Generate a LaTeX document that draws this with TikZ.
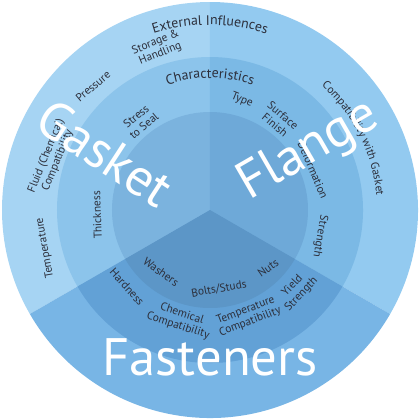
\documentclass[tikz,border=0pt]{standalone}
\usepackage{fontspec}
\setmainfont{PT Sans}
\usetikzlibrary{decorations.text}
\definecolor{gasketout}{HTML}{A6D4F3}
\definecolor{gasketmid}{HTML}{8CC4EB}
\definecolor{gasketin}{HTML}{7BB3DE}
\definecolor{flangeout}{HTML}{93CAF0}
\definecolor{flangemid}{HTML}{7BB9E5}
\definecolor{flangein}{HTML}{6EA9D8}
\definecolor{fastout}{HTML}{78B5E5}
\definecolor{fastmid}{HTML}{62A1D6}
\definecolor{fastin}{HTML}{5C96C7}
\definecolor{ink}{HTML}{2C2F3B}
\begin{document}
\begin{tikzpicture}[scale=0.2]
\tikzstyle{every node}+=[inner sep=0pt, text=ink]
\tikzstyle{small}=[font=\fontsize{6.5}{7}\selectfont, align=center]
\tikzstyle{big}=[font=\fontsize{30}{30}\selectfont, text=white]
\useasboundingbox (0,0) rectangle (42,-42);
% outer ring
\fill [gasketout] (21,-21) -- (21,-0.2) arc (90:210:20.8) -- cycle;
\fill [flangeout] (21,-21) -- (39.013,-31.4) arc (-30:90:20.8) -- cycle;
\fill [fastout] (21,-21) -- (2.987,-31.4) arc (210:330:20.8) -- cycle;
% middle ring
\fill [gasketmid] (21,-21) -- (21,-5.7) arc (90:210:15.3) -- cycle;
\fill [flangemid] (21,-21) -- (34.25,-28.65) arc (-30:90:15.3) -- cycle;
\fill [fastmid] (21,-21) -- (7.75,-28.65) arc (210:330:15.3) -- cycle;
% inner ring
\fill [gasketin] (21,-21) -- (21,-11.2) arc (90:210:9.8) -- cycle;
\fill [flangein] (21,-21) -- (29.487,-25.9) arc (-30:90:9.8) -- cycle;
\fill [fastin] (21,-21) -- (12.513,-25.9) arc (210:330:9.8) -- cycle;
% curved titles
\path [decorate, decoration={text along path, text align=center, text color=ink,
  text={|\fontsize{7.9}{8}\selectfont|External Influences}}] (4.979,-11.75) arc (150:30:18.5);
\path [decorate, decoration={text along path, text align=center, text color=ink,
  text={|\fontsize{7.9}{8}\selectfont|Characteristics}}] (9.568,-14.4) arc (150:30:13.2);
\path [decorate, decoration={text along path, text align=center, text color=ink,
  text={|\fontsize{6.5}{7}\selectfont|Compatibility with Gasket}}] (32.174,-8.589) arc (48:5:16.7);
% gasket
\draw (4.5,-24.8) node [small, rotate=100] (temperature) {Temperature};
\draw (9.7,-21.5) node [small, rotate=92] (thickness) {Thickness};
\draw (5.2,-15.8) node [small, rotate=68] (fluid) {Fluid (Chemical)\\Compatibility};
\draw (9.3,-8.6) node [small, rotate=40] (pressure) {Pressure};
\draw (15.8,-4.8) node [small, rotate=22] (storage) {Storage \&\\Handling};
\draw (14.0,-12.1) node [small, rotate=40] (stress) {Stress\\to Seal};
% flange
\draw (24.2,-10.0) node [small, rotate=-22] (type) {Type};
\draw (27.9,-12.0) node [small, rotate=-40] (surface) {Surface\\Finish};
\draw (31.3,-17.0) node [small, rotate=-67] (deformation) {Deformation};
\draw (32.0,-23.6) node [small, rotate=-100] (strength) {Strength};
% fasteners
\draw (16.1,-27.2) node [small, rotate=-35] (washers) {Washers};
\draw (21.9,-28.9) node [small, rotate=10] (bolts) {Bolts/Studs};
\draw (26.8,-26.8) node [small, rotate=35] (nuts) {Nuts};
\draw (12.7,-28.7) node [small, rotate=-48] (hardness) {Hardness};
\draw (18.0,-32.0) node [small, rotate=-18] (chemical) {Chemical\\Compatibility};
\draw (24.8,-31.6) node [small, rotate=21] (tempcomp) {Temperature\\Compatibility};
\draw (29.7,-29.0) node [small, rotate=47] (yield) {Yield\\Strength};
% big words
\draw (10.5,-15.3) node [big, rotate=-33] (gasket) {Gasket};
\draw (30.9,-15.1) node [big, rotate=30] (flange) {Flange};
\draw (21,-35.7) node [big] (fasteners) {Fasteners};
\end{tikzpicture}
\end{document}
